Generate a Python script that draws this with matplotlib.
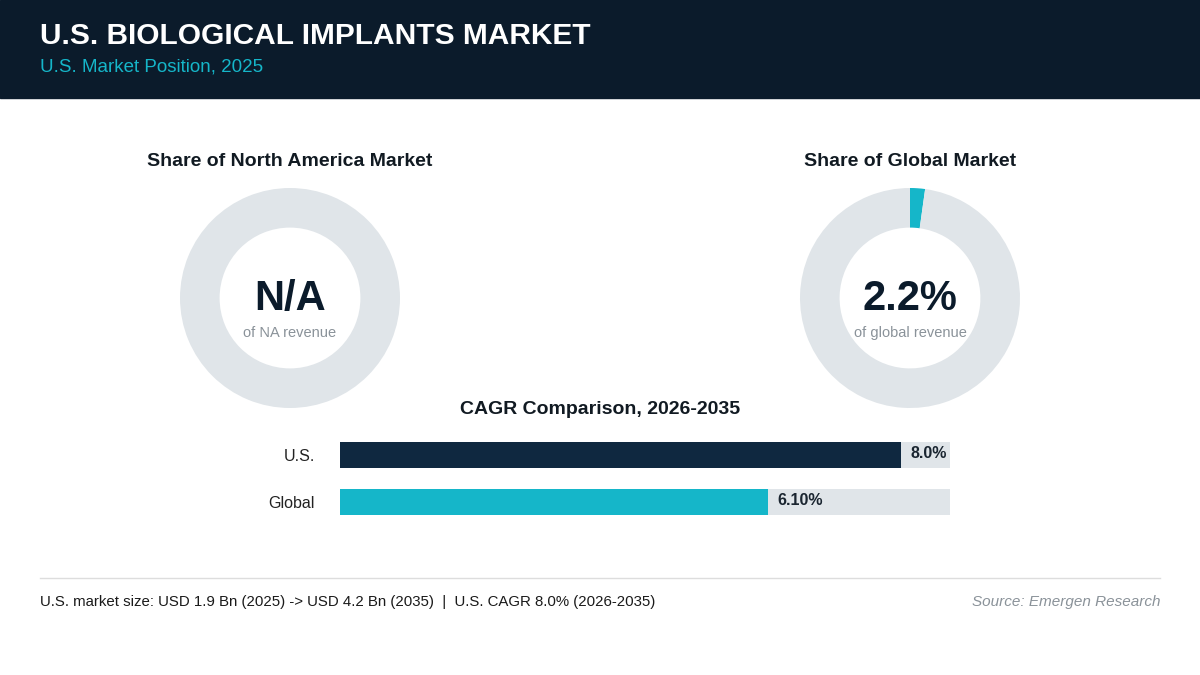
import matplotlib
matplotlib.use("Agg")
import matplotlib.pyplot as plt
from matplotlib.patches import Rectangle

W, H = 1200, 675
plt.rcParams['font.family'] = ['Liberation Sans', 'DejaVu Sans']

na_share = None
global_share = 2.2
cagr_labels = ["U.S.", "Global"]
cagr_values = [8.0, 6.10]
cagr_texts = ["8.0%", "6.10%"]
cagr_max = 8.7

DARK = "#0b1b2b"
CYAN = "#15b6c9"
NAVY = "#0f2840"
GREY = "#e0e5e9"

fig = plt.figure(figsize=(12, 6.75), dpi=100)
fig.patch.set_facecolor("white")

def fx(x): return x / W
def fy(y): return 1 - y / H

# header
fig.patches.append(Rectangle((0, fy(98)), 1, 98 / H, transform=fig.transFigure, color=DARK, zorder=0))
t = fig.text(fx(40), fy(36), "U.S. BIOLOGICAL IMPLANTS MARKET", color="white", fontsize=21.5, fontweight="bold", va="center")
try:
    pass
except Exception:
    pass
fig.text(fx(40), fy(67), "U.S. Market Position, 2025", color=CYAN, fontsize=13.5, va="center")

def donut(cx, cy, title, value, big, small):
    r = 110
    ax = fig.add_axes([fx(cx - r), fy(cy + r), 2 * r / W, 2 * r / H])
    if value is None:
        ax.pie([1], colors=[GREY], radius=1, startangle=90, counterclock=False,
               wedgeprops=dict(width=0.36, edgecolor="none"))
    else:
        ax.pie([value, 100 - value], colors=[CYAN, GREY], radius=1, startangle=90, counterclock=False,
               wedgeprops=dict(width=0.36, edgecolor="none"))
    ax.set_aspect("equal")
    ax.set_xlim(-1, 1); ax.set_ylim(-1, 1)
    fig.text(fx(cx), fy(162), title, ha="center", va="center", fontsize=14, fontweight="bold", color="#111a22")
    fig.text(fx(cx), fy(299), big, ha="center", va="center", fontsize=30, fontweight="bold", color="#0b1b2b")
    fig.text(fx(cx), fy(333), small, ha="center", va="center", fontsize=10.5, color="#8a9299")

donut(290, 298, "Share of North America Market", na_share, "N/A", "of NA revenue")
donut(910, 298, "Share of Global Market", global_share, f"{global_share}%", "of global revenue")

# CAGR bars
fig.text(fx(600), fy(410), "CAGR Comparison, 2026-2035", ha="center", va="center", fontsize=14, fontweight="bold", color="#111a22")
bax = fig.add_axes([fx(340), fy(525), 610 / W, 93 / H])
ys = [0, 1]
bax.barh(ys, [cagr_max] * 2, height=0.56, color=GREY)
bax.barh(ys, cagr_values, height=0.56, color=[NAVY, CYAN])
bax.set_xlim(0, cagr_max)
bax.set_ylim(1.5, -0.5)
for y, v, tx in zip(ys, cagr_values, cagr_texts):
    bax.text(v + 0.14, y - 0.03, tx, va="center", ha="left", fontsize=11.5, fontweight="bold", color="#1a2530")
bax.set_yticks(ys)
bax.set_yticklabels(cagr_labels, fontsize=11.5, color="#222")
bax.tick_params(axis="y", length=0, pad=18)
bax.set_xticks([])
for s in bax.spines.values():
    s.set_visible(False)

# footer
fig.add_artist(plt.Line2D([fx(40), fx(1160)], [fy(578), fy(578)], color="#dddddd", lw=1))
fig.text(fx(40), fy(602), "U.S. market size: USD 1.9 Bn (2025) -> USD 4.2 Bn (2035)  |  U.S. CAGR 8.0% (2026-2035)",
         fontsize=10.8, va="center", color="#1a1a1a")
fig.text(fx(1160), fy(602), "Source: Emergen Research", fontsize=11, va="center", ha="right",
         color="#8a9299", style="italic")

fig.canvas.draw()
# add letter spacing effect to title by widening via stretch
t.set_fontstretch("expanded")
fig.savefig("out.png", dpi=100)
